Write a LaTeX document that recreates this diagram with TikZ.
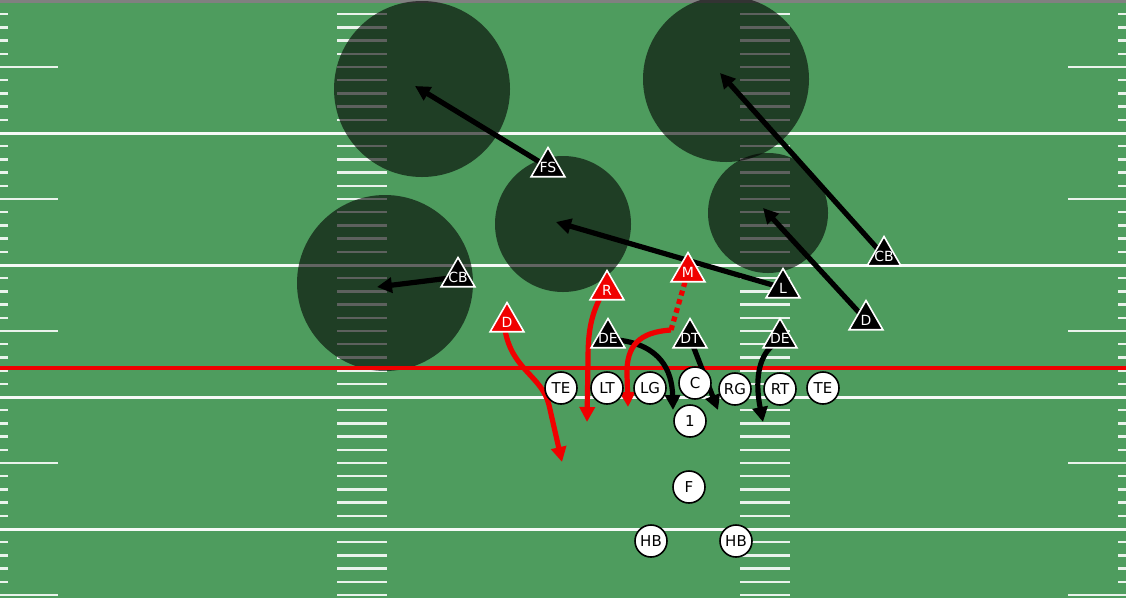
\documentclass[tikz,border=0pt]{standalone}
\usepackage{fontspec}
\setsansfont{DejaVu Sans}
\usetikzlibrary{arrows.meta,shapes.geometric}
\definecolor{field}{RGB}{78,156,94}
\definecolor{losred}{RGB}{240,0,0}
\pgfdeclarelayer{bg}
\pgfdeclarelayer{routes}
\pgfsetlayers{bg,routes,main}
\newcommand\trilab[1]{\makebox[0pt]{\smash{\raisebox{-0.36em}{#1}}}}
\begin{document}
\begin{tikzpicture}[x=1pt,y=-1pt,
  offp/.style={circle,draw=black,line width=1.6pt,fill=white,minimum size=32pt,inner sep=0pt,font=\sffamily\fontsize{15}{15}\selectfont},
  defp/.style={regular polygon,regular polygon sides=3,draw=white,line width=1.6pt,fill=black,text=white,minimum size=39pt,inner sep=0pt,font=\sffamily\fontsize{14}{14}\selectfont},
  rdefp/.style={defp,fill=losred},
  zone/.style={fill=black,fill opacity=0.6},
  tick/.style={draw=white!88!field,line width=2.3pt},
  yline/.style={draw=white!95!field,line width=3pt},
  barrow/.style={draw=black,line width=5.2pt,-{Triangle[length=15pt,width=15pt]}},
  rarrow/.style={draw=losred,line width=5.2pt,-{Triangle[length=15pt,width=15pt]}},
  rdot/.style={draw=losred,line width=5.2pt,dash pattern=on 5pt off 4pt},
]
\useasboundingbox (0,0) rectangle (1126,598);
\begin{pgfonlayer}{bg}
  \fill[field] (0,0) rectangle (1126,598);
  \draw[draw=gray,line width=3pt] (0,1.5) -- (1126,1.5);
  \foreach \k in {1,...,45}{
    \pgfmathsetmacro\myY{1+13.2*\k}
    \pgfmathtruncatemacro\myM{mod(\k,10)}
    \draw[tick] (0,\myY) -- (8,\myY);
    \draw[tick] (1118,\myY) -- (1126,\myY);
    \draw[tick] (337,\myY) -- (387,\myY);
    \draw[tick] (740,\myY) -- (790,\myY);
    \ifnum\myM=0 \draw[yline] (0,\myY) -- (1126,\myY); \fi
    \ifnum\myM=5 \draw[tick] (0,\myY) -- (58,\myY); \draw[tick] (1068,\myY) -- (1126,\myY); \fi
  }
  \fill[zone] (422,89) circle[radius=88];
  \fill[zone] (726,79) circle[radius=83];
  \fill[zone] (563,224) circle[radius=68];
  \fill[zone] (768,213) circle[radius=60];
  \fill[zone] (385,283) circle[radius=88];
  \draw[draw=losred,line width=4pt] (0,368) -- (1126,368);
\end{pgfonlayer}

% defense
\node[defp] (FS) at (548,167) {\trilab{FS}};
\node[defp] (CBr) at (884,256) {\trilab{CB}};
\node[defp] (Dr) at (866,320) {\trilab{D}};
\node[defp] (L) at (783,288) {\trilab{L}};
\node[rdefp] (M) at (688,272) {\trilab{M}};
\node[rdefp] (R) at (607,290) {\trilab{R}};
\node[rdefp] (Dl) at (507,322) {\trilab{D}};
\node[defp] (DEl) at (608,338) {\trilab{DE}};
\node[defp] (DT) at (690,338) {\trilab{DT}};
\node[defp] (DEr) at (780,338) {\trilab{DE}};
\node[defp] (CBl) at (458,277) {\trilab{CB}};

% offense
\node[offp] (TEl) at (561,388) {TE};
\node[offp] (LT) at (607,388) {LT};
\node[offp] (LG) at (650,388) {LG};
\node[offp] (C) at (695,383) {C};
\node[offp] (RG) at (735,389) {RG};
\node[offp] (RT) at (780,389) {RT};
\node[offp] (TEr) at (823,388) {TE};
\node[offp] (Q) at (690,421) {1};
\node[offp] (F) at (689,487) {F};
\node[offp] (HBl) at (651,541) {HB};
\node[offp] (HBr) at (736,541) {HB};

% route end points
\coordinate (fsT) at (415,86);
\coordinate (cbrT) at (720,73);
\coordinate (drT) at (763,208);
\coordinate (lT) at (556,222);
\coordinate (cblT) at (377,287);
\coordinate (delT) at (673,410);
\coordinate (dtT) at (718,410);
\coordinate (derT) at (763,422);
\coordinate (dlT) at (562,462);
\coordinate (rT) at (587,422);
\coordinate (mA) at (671,330);
\coordinate (mT) at (628,407);

\begin{pgfonlayer}{routes}
  \draw[barrow] (FS.center) -- (fsT);
  \draw[barrow] (CBr.center) -- (cbrT);
  \draw[barrow] (Dr.center) -- (drT);
  \draw[barrow] (L.center) -- (lT);
  \draw[barrow] (CBl.center) -- (cblT);
  \draw[barrow] ([shift={(10,2)}]DEl.center) .. controls (660,345) and (672,370) .. (delT);
  \draw[barrow] (DT.center) -- (dtT);
  \draw[barrow] ([shift={(-8,8)}]DEr.center) .. controls (758,358) and (755,382) .. (derT);
  \draw[rarrow] ([shift={(-2,8)}]Dl.center) .. controls (512,370) and (542,376) .. (549,405) -- (dlT);
  \draw[rarrow] ([shift={(-7,8)}]R.center) .. controls (590,318) and (588,335) .. (588,360) -- (rT);
  \draw[rdot] ([shift={(-3,10)}]M.center) -- (mA);
  \draw[rarrow] (mA) .. controls (640,332) and (626,345) .. (627,375) -- (mT);
\end{pgfonlayer}
\end{tikzpicture}
\end{document}
